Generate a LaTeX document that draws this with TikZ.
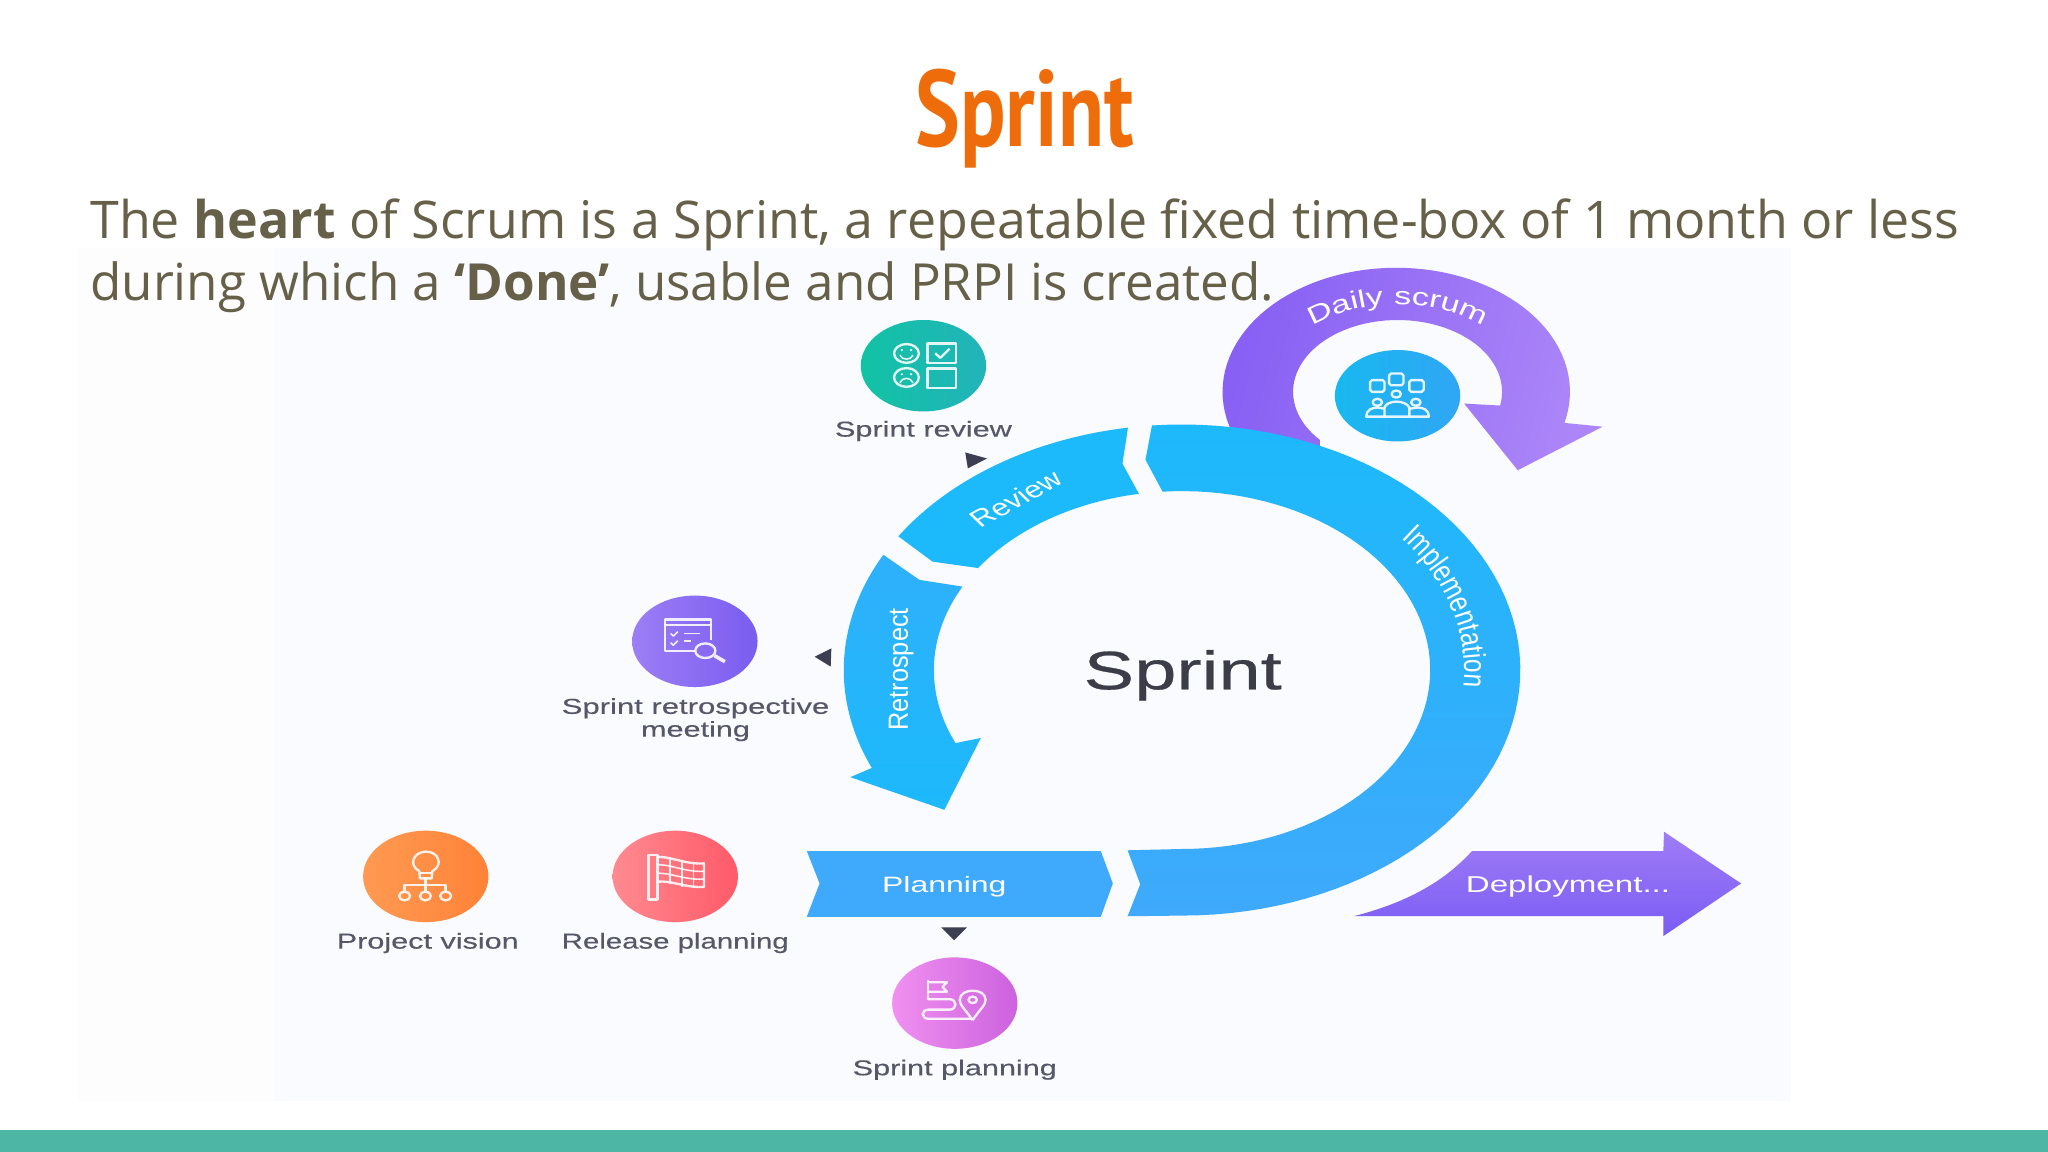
\documentclass[tikz,border=0pt]{standalone}
\usepackage{fontspec}
\usepackage{graphicx}
\usetikzlibrary{decorations.text}
\setmainfont{Open Sans}
\newfontfamily\titlef[FakeStretch=0.78]{PT Sans}
\newfontfamily\widef[FakeStretch=1.42,FakeBold=0.3]{Liberation Sans}
\newfontfamily\whitef[FakeStretch=1.44]{Liberation Sans}
\newfontfamily\centerf[FakeStretch=1.40,FakeBold=0.5]{Liberation Sans}
\newfontfamily\spacedf[FakeStretch=1.37,LetterSpace=3]{Liberation Sans}
\newfontfamily\plainf{Liberation Sans}
\newfontfamily\retrof[FakeStretch=1.25]{Liberation Sans}
\newfontfamily\implf[FakeStretch=0.78]{Liberation Sans}
\newcommand\fsz[1]{\fontsize{#1}{#1}\selectfont}
\definecolor{bodytxt}{HTML}{666049}
\definecolor{titleor}{HTML}{EF6C0A}
\definecolor{labeltxt}{HTML}{555868}
\definecolor{darktri}{HTML}{3C3E52}
\definecolor{pagebar}{HTML}{4DB6A5}
\definecolor{imgbg}{HTML}{F9FBFE}
\definecolor{imgbgl}{HTML}{FDFDFE}
\definecolor{skyA}{HTML}{1CB9FB}
\definecolor{skyB}{HTML}{3FA9FB}
\definecolor{purA}{HTML}{8860F4}
\definecolor{purB}{HTML}{AC86F8}
\definecolor{purC}{HTML}{A07CF6}
\definecolor{purD}{HTML}{7A5CF4}
\definecolor{tealA}{HTML}{12C2A4}
\definecolor{tealB}{HTML}{22B4BA}
\definecolor{blueA}{HTML}{18B8F0}
\definecolor{blueB}{HTML}{30A6F4}
\definecolor{vioA}{HTML}{9C7EF6}
\definecolor{vioB}{HTML}{7A5CF0}
\definecolor{orgA}{HTML}{FF9A52}
\definecolor{orgB}{HTML}{FF8238}
\definecolor{redA}{HTML}{FF8A90}
\definecolor{redB}{HTML}{FF5A68}
\definecolor{magA}{HTML}{F090F0}
\definecolor{magB}{HTML}{CC62DE}
\tikzset{
  ep/.style 2 args={domain=#1:#2,samples=70,variable=\t},
  bodyline/.style={anchor=base west,inner sep=0,text=bodytxt},
  lab/.style={inner sep=0,text=labeltxt,font=\widef\fsz{16.5},align=center},
  onband/.style={inner sep=0,text=white,font=\whitef\fsz{17}},
  badge/.style={draw=none,shading=axis},
  icon/.style={draw=white,draw opacity=.88,line width=1.8pt,fill=none,line join=round},
  tri/.style={fill=darktri,draw=none},
}
\begin{document}
\begin{tikzpicture}[x=1pt,y=-1pt]
\useasboundingbox (0,0) rectangle (1568,882);
\fill[white] (0,0) rectangle (1568,882);
% image backdrop
\fill[imgbgl] (60,190) rectangle (210,843);
\fill[imgbg] (210,190) rectangle (1371,843);
\fill[pagebar] (0,865) rectangle (1568,882);

% title and text
\node (title) [anchor=base,inner sep=0,text=titleor,font=\titlef\bfseries\fsz{83}] at (784.5,112) {Sprint};
\node (line1) [bodyline,font=\fsz{39.75}] at (69,182.6) {The \textbf{heart} of Scrum is a Sprint, a repeatable fixed time-box of 1 month or less};
\node (line2) [bodyline,font=\fsz{39.15}] at (69,229.7) {during which a \textbf{‘Done’}, usable and PRPI is created.};

% daily scrum arrow (behind the ring)
\path[shading=axis,left color=purA,right color=purB,shading angle=75]
  plot[ep={205}{-14.5}] ({1069+133*cos(\t)},{300-95*sin(\t)})
  -- (1227,326.7) -- (1162,360) -- (1121,309)
  -- plot[ep={-11}{222}] ({1070+80*cos(\t)},{300-55*sin(\t)})
  -- (1010,360) -- (950,345) -- cycle;

% ring: implementation
\path[shading=axis,top color=skyA,bottom color=skyB]
  (882,325.5) -- plot[ep={95}{-90}] ({905+259*cos(\t)},{513-188*sin(\t)})
  -- (863.3,701.5) -- (873,677) -- (863.3,651)
  -- plot[ep={-90}{94.5}] ({905+190*cos(\t)},{513-137*sin(\t)})
  -- (877,352) -- cycle;
% review
\path[fill=skyA]
  plot[ep={99.2}{147}] ({905+259*cos(\t)},{513-188*sin(\t)})
  -- (714,430) -- (749.5,435)
  -- plot[ep={145.2}{100}] ({905+190*cos(\t)},{513-137*sin(\t)})
  -- (859.4,355) -- cycle;
% retrospect arrow
\path[shading=axis,top color=skyB!55!skyA,bottom color=skyA]
  plot[ep={152}{203.5}] ({905+259*cos(\t)},{513-188*sin(\t)})
  -- (651,595) -- (723,620) -- (751,565)
  -- plot[ep={204.1}{152.2}] ({905+190*cos(\t)},{513-137*sin(\t)})
  -- (704,444) -- cycle;
% planning
\path[fill=skyB] (617.7,651.6) -- (842.8,651.6) -- (852,676.4) -- (842.8,701.9)
  -- (617.7,701.9) -- (627.5,676.4) -- cycle;
% deployment
\path[shading=axis,top color=purC,bottom color=purD]
  (1036.7,701.4) .. controls (1085,689) and (1110,670) .. (1127,651.6)
  -- (1273.5,651.6) -- (1274,636.8) -- (1333,676.4) -- (1273.5,716.7) -- (1273.5,701.4) -- cycle;

% band texts
\path[decorate,decoration={text along path,text align=center,
   text={|\implf\fsz{24}\color{white}|Implementation}}]
  plot[ep={54}{-22}] ({905+216*cos(\t)},{513-160*sin(\t)});
\path[decorate,decoration={text along path,text align=center,
   text={|\spacedf\fsz{19}\color{white}|Daily scrum}}]
  plot[ep={165}{15}] ({1070+98*cos(\t)},{300-67*sin(\t)});
\path (778,382) node (treview) [inner sep=0,text=white] {\scalebox{1.37}[1]{\rotatebox{37}{\plainf\fsz{18}Review}}};
\path (690,512.5) node (tretro) [inner sep=0,text=white] {\scalebox{1.37}[1]{\rotatebox{90}{\retrof\fsz{15.5}Retrospect}}};
\node (tplan) [onband] at (723,679) {Planning};
\node (tdeploy) [onband,font=\whitef\fsz{17.6}] at (1200.5,679) {Deployment...};
\node (tsprint) [inner sep=0,text=labeltxt!70!black,font=\centerf\fsz{41.5}] at (905.5,517) {Sprint};

% small triangles
\path[tri] (739,346.4) -- (755.7,351) -- (741,358.6) -- cycle;
\path[tri] (636.5,496.4) -- (623.7,502.8) -- (636,510.4) -- cycle;
\path[tri] (720.7,710) -- (740.3,710) -- (730.5,719.8) -- cycle;

% badges
\path[badge,left color=tealA,right color=tealB] (707,280) ellipse [x radius=48,y radius=35];
\path[badge,left color=blueA,right color=blueB] (1070,303) ellipse [x radius=48,y radius=35];
\path[badge,left color=vioA,right color=vioB] (532,491) ellipse [x radius=48,y radius=35];
\path[badge,left color=orgA,right color=orgB] (326,671) ellipse [x radius=48,y radius=35];
\path[badge,left color=redA,right color=redB] (517,671) ellipse [x radius=48,y radius=35];
\path[badge,left color=magA,right color=magB] (731,768) ellipse [x radius=48,y radius=35];

% badge labels
\node (lreview) [lab] at (707,330) {Sprint review};
\node (lretro) [lab] at (532.5,551) {\scalebox{1.015}[1]{Sprint retrospective}\\[1pt]meeting};
\node (lvision) [lab] at (327.5,722) {Project vision};
\node (lrelease) [lab] at (517,722) {\scalebox{0.96}[1]{Release planning}};
\node (lplanning) [lab] at (731,819) {Sprint planning};

% icon: sprint review
\draw[icon] (694,270.6) ellipse [x radius=9.5,y radius=7.2];
\draw[icon] (694,289) ellipse [x radius=9.5,y radius=7.2];
\draw[icon] (710,263) rectangle (732,278);
\draw[icon] (710,282) rectangle (732,297);
\draw[icon] (716,270.5) -- (720,274) -- (727,267);
\draw[icon,line width=1.2pt] (689,272) .. controls (691,276) and (697,276) .. (699,272);
\draw[icon,line width=1.2pt] (689,293) .. controls (691,288.5) and (697,288.5) .. (699,293);
\fill[white,opacity=.88] (690.5,268) circle [radius=1] (697.5,268) circle [radius=1] (690.5,286.5) circle [radius=1] (697.5,286.5) circle [radius=1];

% icon: daily scrum
\draw[icon,rounded corners=1.5pt] (1063.5,286) rectangle (1074.5,295);
\draw[icon,rounded corners=1.5pt] (1049,291) rectangle (1060,300);
\draw[icon,rounded corners=1.5pt] (1079,291) rectangle (1090,300);
\draw[icon] (1069,301.7) ellipse [x radius=3.6,y radius=2.7];
\draw[icon] (1054.5,308) ellipse [x radius=3.6,y radius=2.7];
\draw[icon] (1084,308) ellipse [x radius=3.6,y radius=2.7];
\draw[icon] (1060,319) -- (1060,312) .. controls (1062,306) and (1076,306) .. (1079,312) -- (1079,319) -- cycle;
\draw[icon] (1060,319) -- (1046,319) .. controls (1046,314) and (1050,312) .. (1055,312) -- (1060,313);
\draw[icon] (1079,319) -- (1094,319) .. controls (1094,314) and (1090,312) .. (1085,312) -- (1079,313);

% icon: retrospective
\draw[icon] (544.4,490) -- (544.4,474.2) -- (509,474.2) -- (509,498.2) -- (532,498.2);
\draw[icon] (509,478.6) -- (544.4,478.6);
\draw[icon,line width=1.2pt] (513.5,485) -- (515.5,487) -- (519,483.5);
\draw[icon,line width=1.2pt] (513.5,492) -- (515.5,494) -- (519,490.5);
\draw[icon,line width=1.4pt] (524,485) -- (536,485) (524,491) -- (529,491);
\draw[icon] (540,498.2) ellipse [x radius=7.7,y radius=5.6];
\draw[icon,line width=2.8pt] (547,502) -- (555,506.6);

% icon: project vision
\draw[icon] (321.5,672.5) -- (321,667) .. controls (312,662) and (317,652) .. (326.2,652) .. controls (335.5,652) and (340,662) .. (331,667) -- (330.5,672.5) -- cycle;
\draw[icon] (321.5,668.5) -- (331,668.5);
\draw[icon] (325.7,672.5) -- (325.7,682.5);
\draw[icon] (309.8,682.5) -- (309.8,677.6) -- (341.2,677.6) -- (341.2,682.5);
\draw[icon] (309.8,686) ellipse [x radius=4.2,y radius=3.4];
\draw[icon] (325.7,686) ellipse [x radius=4.2,y radius=3.4];
\draw[icon] (341.2,686) ellipse [x radius=4.2,y radius=3.4];

% icon: release planning
\draw[icon] (496.5,688.6) -- (496.5,654.6) -- (503.4,654.6) -- (503.4,688.6) -- cycle;
\draw[icon] (503.4,656) .. controls (515,656) and (525,662) .. (539,661) -- (539,679)
   .. controls (525,680) and (515,674) .. (503.4,675);
\draw[icon,line width=1.2pt] (513,658) -- (513,677) (522,660) -- (522,679) (531,661) -- (531,680);
\draw[icon,line width=1.2pt] (503.4,662) .. controls (515,662) and (525,668) .. (539,667)
   (503.4,668.5) .. controls (515,668.5) and (525,674) .. (539,673);

% icon: sprint planning
\draw[icon] (710.5,762) -- (710.5,750);
\draw[icon] (710.5,752) -- (725,752) -- (721.5,755.5) -- (725,759.3) -- (710.5,759.3);
\draw[icon] (710.5,762) -- (710.5,765) -- (727,765) .. controls (733,765) and (733,773) .. (727,773)
   -- (711,773) .. controls (705,773) and (705,780) .. (711,780) -- (744.5,780);
\draw[icon] (744.7,781) .. controls (739,773) and (734.5,769) .. (734.8,765.5)
   .. controls (735,760.5) and (740,758.5) .. (744.7,758.5)
   .. controls (749.5,758.5) and (754.5,760.5) .. (754.6,765.5)
   .. controls (755,769) and (750,773) .. (744.7,781);
\draw[icon] (744.7,765.5) ellipse [x radius=3.2,y radius=2.5];
\end{tikzpicture}
\end{document}
